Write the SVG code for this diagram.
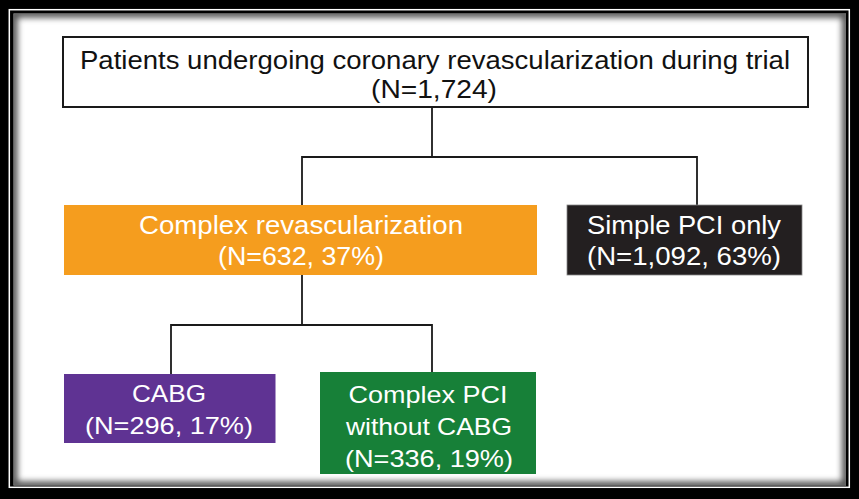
<svg xmlns="http://www.w3.org/2000/svg" width="859" height="499" viewBox="0 0 859 499">
<defs>
<style>
.t{font-family:"Liberation Sans",Arial,sans-serif;font-size:24px;text-anchor:middle}
.n{font-size:25.5px}
.w{fill:#ffffff}
.k{fill:#111111}
.c{fill:none;stroke:#1a1a1a;stroke-width:1.8}
</style>
<clipPath id="inner"><rect x="13.5" y="13.5" width="832.5" height="472"/></clipPath>
<filter id="blur" x="-5%" y="-5%" width="110%" height="110%"><feGaussianBlur stdDeviation="3"/></filter>
</defs>
<rect x="0" y="0" width="859" height="499" fill="#000"/>
<rect x="9.3" y="9.7" width="840" height="477.6" fill="none" stroke="#fff" stroke-width="1.5"/>
<rect x="13.5" y="13.5" width="832.5" height="472" fill="#fff"/>
<g clip-path="url(#inner)">
<rect x="13.5" y="13.5" width="832.5" height="472" fill="none" stroke="#000" stroke-width="8" filter="url(#blur)" opacity="0.7"/>
</g>
<g id="connectors">
<polyline class="c" points="432,107 432,157"/>
<polyline class="c" points="302,205 302,157 697,157 697,205"/>
<polyline class="c" points="302,275 302,325"/>
<polyline class="c" points="171,374 171,325 432,325 432,372"/>
</g>
<g id="root">
<rect x="63" y="37" width="745" height="70" fill="#fff" stroke="#1a1a1a" stroke-width="2"/>
<text class="t n k" x="435" y="69" textLength="710" lengthAdjust="spacingAndGlyphs">Patients undergoing coronary revascularization during trial</text>
<text class="t n k" x="434" y="98" textLength="126" lengthAdjust="spacingAndGlyphs">(N=1,724)</text>
</g>
<g id="complex">
<rect x="64" y="205" width="473" height="70" fill="#F59D1E"/>
<text class="t n w" x="301" y="234" textLength="324" lengthAdjust="spacingAndGlyphs">Complex revascularization</text>
<text class="t n w" x="301" y="265" textLength="166" lengthAdjust="spacingAndGlyphs">(N=632, 37%)</text>
</g>
<g id="simple">
<rect x="567" y="205" width="235" height="70" fill="#231F20" stroke="#888" stroke-width="0.8"/>
<text class="t n w" x="684" y="234" textLength="194" lengthAdjust="spacingAndGlyphs">Simple PCI only</text>
<text class="t n w" x="684" y="265" textLength="194" lengthAdjust="spacingAndGlyphs">(N=1,092, 63%)</text>
</g>
<g id="cabg">
<rect x="64" y="374" width="211.5" height="69" fill="#5F3393"/>
<text class="t w" x="169" y="402" textLength="74" lengthAdjust="spacingAndGlyphs">CABG</text>
<text class="t w" x="169" y="434" textLength="168" lengthAdjust="spacingAndGlyphs">(N=296, 17%)</text>
</g>
<g id="complexpci">
<rect x="320" y="372" width="216" height="102" fill="#178038"/>
<text class="t w" x="428" y="403" textLength="159" lengthAdjust="spacingAndGlyphs">Complex PCI</text>
<text class="t w" x="429" y="435" textLength="166" lengthAdjust="spacingAndGlyphs">without CABG</text>
<text class="t w" x="429" y="467" textLength="168" lengthAdjust="spacingAndGlyphs">(N=336, 19%)</text>
</g>
</svg>
